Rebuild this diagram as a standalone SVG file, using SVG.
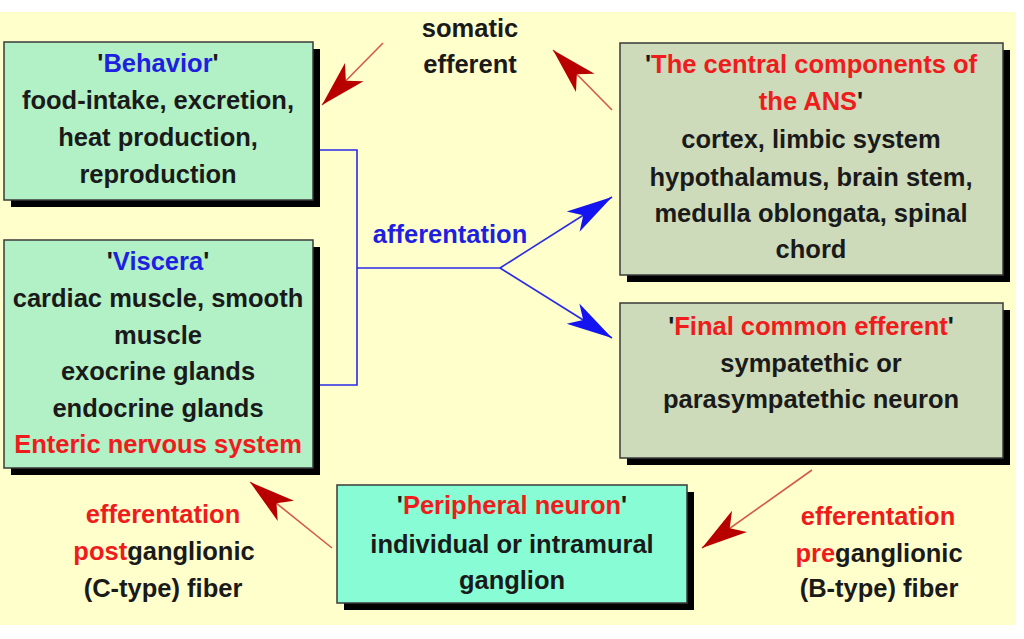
<svg xmlns="http://www.w3.org/2000/svg" width="1024" height="639" viewBox="0 0 1024 639">
<defs>
<style>
text{font-family:"Liberation Sans",Arial,sans-serif;font-weight:bold;font-size:25.5px;fill:#1a1a1a;text-anchor:middle}
.b{fill:#1f1fe0}.r{fill:#ee1c1c}
.box{stroke:#3a3a3a;stroke-width:1.5}
.sh{fill:#000}
.rl{stroke:#d45a4a;stroke-width:1.6;fill:none}
.bl{stroke:#2a2ae8;stroke-width:1.6;fill:none}
</style>
<marker id="rh" viewBox="-50 -16 52 32" refX="0" refY="0" markerWidth="52" markerHeight="32" markerUnits="userSpaceOnUse" orient="auto"><path d="M0,0 L-46,-13 L-34,0 L-46,13 Z" fill="#b80000"/></marker>
<marker id="bh" viewBox="-50 -16 52 32" refX="0" refY="0" markerWidth="52" markerHeight="32" markerUnits="userSpaceOnUse" orient="auto"><path d="M0,0 L-46,-12 L-34,0 L-46,12 Z" fill="#1414f0"/></marker>
</defs>
<rect width="1024" height="639" fill="#ffffff"/>
<rect x="0" y="12" width="1016" height="613" fill="#ffffcc"/>

<g id="connectors">
<polyline class="bl" points="320,150 357,150 357,385 320,385"/>
<polyline class="bl" points="357,268 500,268"/>
<line class="bl" x1="500" y1="268" x2="612" y2="197" marker-end="url(#bh)"/>
<line class="bl" x1="500" y1="268" x2="612" y2="338" marker-end="url(#bh)"/>
<line class="rl" x1="383" y1="43" x2="322" y2="105" marker-end="url(#rh)"/>
<line class="rl" x1="612" y1="110" x2="553" y2="50" marker-end="url(#rh)"/>
<line class="rl" x1="812" y1="470" x2="702" y2="548" marker-end="url(#rh)"/>
<line class="rl" x1="332" y1="548" x2="250" y2="482" marker-end="url(#rh)"/>
</g>

<g id="behavior">
<rect class="sh" x="11" y="49" width="309" height="158"/>
<rect class="box" x="4" y="42" width="309" height="158" fill="#b2f0c6"/>
<text x="158" y="72">'<tspan class="b">Behavior</tspan>'</text>
<text x="158" y="109">food-intake, excretion,</text>
<text x="158" y="146">heat production,</text>
<text x="158" y="183">reproduction</text>
</g>

<g id="viscera">
<rect class="sh" x="11" y="247" width="309" height="228"/>
<rect class="box" x="4" y="240" width="309" height="228" fill="#b2f0c6"/>
<text x="158" y="270">'<tspan class="b">Viscera</tspan>'</text>
<text x="158" y="307">cardiac muscle, smooth</text>
<text x="158" y="344">muscle</text>
<text x="158" y="380">exocrine glands</text>
<text x="158" y="417">endocrine glands</text>
<text x="158" y="453" class="r">Enteric nervous system</text>
</g>

<g id="central">
<rect class="sh" x="627" y="50" width="383" height="232"/>
<rect class="box" x="620" y="43" width="383" height="232" fill="#cddbba"/>
<text x="811" y="73">'<tspan class="r">The central components of</tspan></text>
<text x="811" y="110"><tspan class="r">the ANS</tspan>'</text>
<text x="811" y="148">cortex, limbic system</text>
<text x="811" y="186">hypothalamus, brain stem,</text>
<text x="811" y="222">medulla oblongata, spinal</text>
<text x="811" y="258">chord</text>
</g>

<g id="final">
<rect class="sh" x="627" y="310" width="383" height="155"/>
<rect class="box" x="620" y="303" width="383" height="155" fill="#cddbba"/>
<text x="811" y="335">'<tspan class="r">Final common efferent</tspan>'</text>
<text x="811" y="372">sympatethic or</text>
<text x="811" y="408">parasympatethic neuron</text>
</g>

<g id="peripheral">
<rect class="sh" x="344" y="492" width="350" height="118"/>
<rect class="box" x="337" y="485" width="350" height="118" fill="#88fcd4"/>
<text x="512" y="514">'<tspan class="r">Peripheral neuron</tspan>'</text>
<text x="512" y="553">individual or intramural</text>
<text x="512" y="589">ganglion</text>
</g>

<g id="labels">
<text x="470" y="37">somatic</text>
<text x="470" y="73">efferent</text>
<text x="450" y="243" class="b">afferentation</text>
<text x="163" y="523" class="r">efferentation</text>
<text x="164" y="560"><tspan class="r">post</tspan>ganglionic</text>
<text x="163" y="597">(C-type) fiber</text>
<text x="878" y="525" class="r">efferentation</text>
<text x="879" y="562"><tspan class="r">pre</tspan>ganglionic</text>
<text x="879" y="597">(B-type) fiber</text>
</g>
</svg>
